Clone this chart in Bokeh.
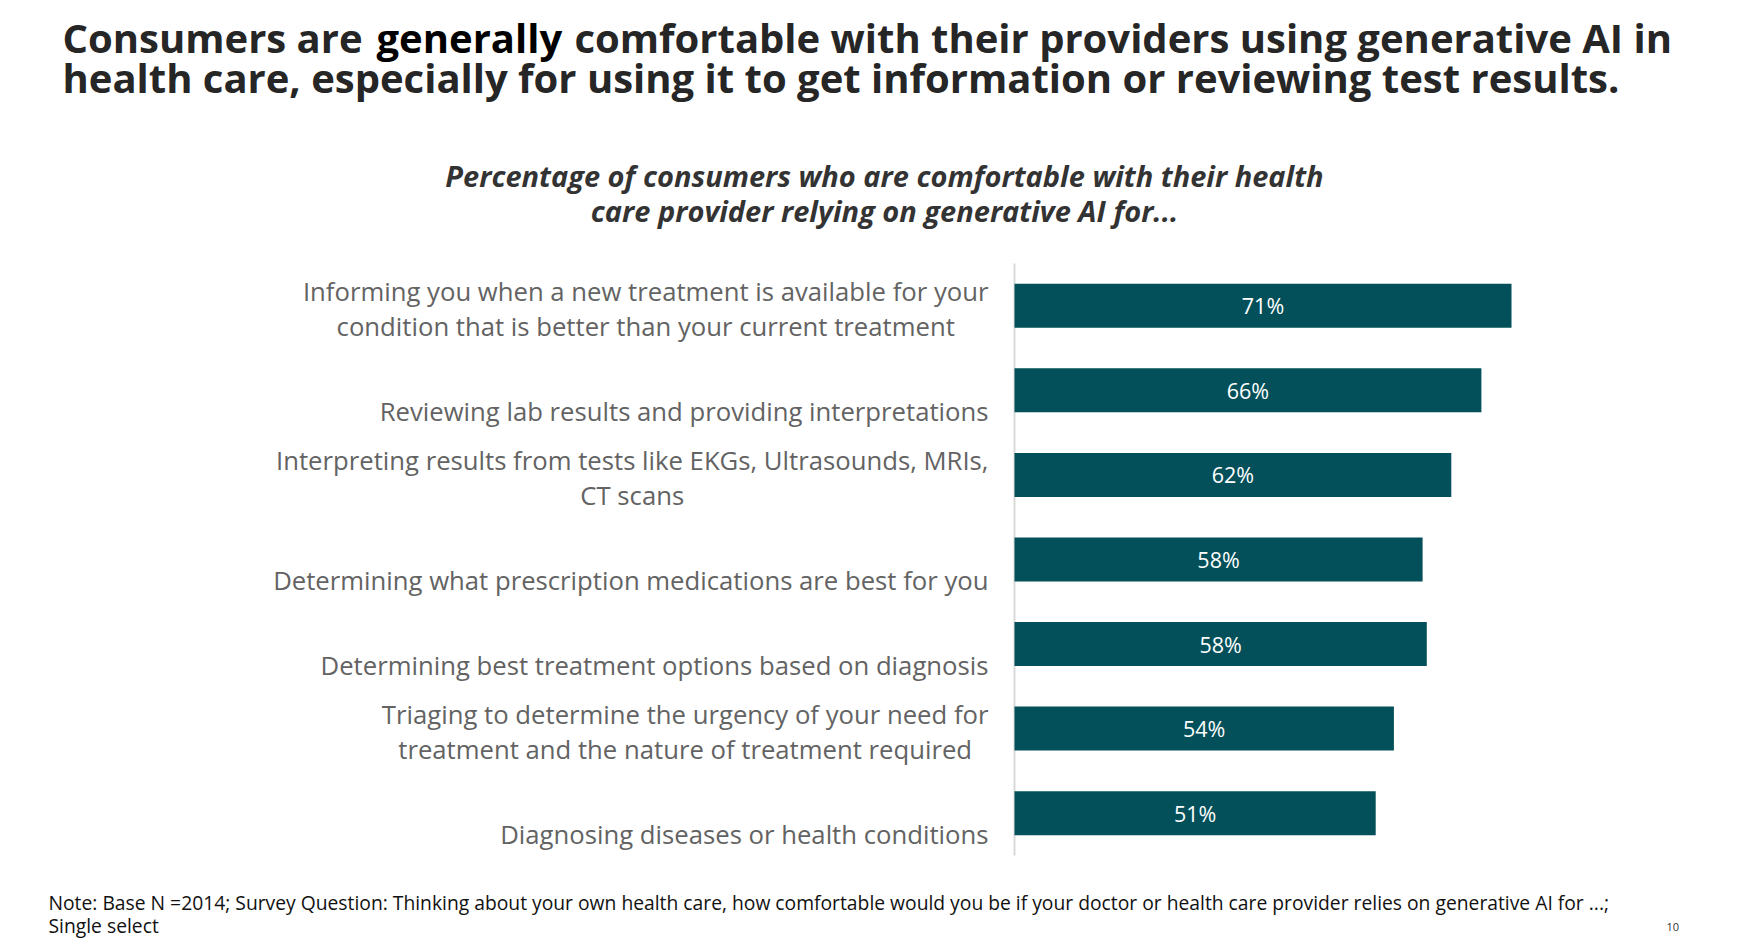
from bokeh.plotting import figure
from bokeh.models import Range1d, ColumnDataSource
from bokeh.core.properties import value
from bokeh.embed import file_html
from bokeh.resources import INLINE

# ---- data ----
categories = [
    "Informing you when a new treatment is available for your\ncondition that is better than your current treatment",
    "Reviewing lab results and providing interpretations",
    "Interpreting results from tests like EKGs, Ultrasounds, MRIs,\nCT scans",
    "Determining what prescription medications are best for you",
    "Determining best treatment options based on diagnosis",
    "Triaging to determine the urgency of your need for\ntreatment and the nature of treatment required",
    "Diagnosing diseases or health conditions",
]
values = [71.0, 66.7, 62.4, 58.3, 58.9, 54.2, 51.6]
value_labels = ["71%", "66%", "62%", "58%", "58%", "54%", "51%"]

title_line1_parts = ["Consumers are", "generally", "comfortable with their providers using generative AI in"]
title_line2 = "health care, especially for using it to get information or reviewing test results."
subtitle_lines = [
    "Percentage of consumers who are comfortable with their health",
    "care provider relying on generative AI for...",
]
note_lines = [
    "Note: Base N =2014; Survey Question: Thinking about your own health care, how comfortable would you be if your doctor or health care provider relies on generative AI for ...;",
    "Single select",
]
page_number = "10"

# ---- styling / layout ----
FONT = "Open Sans"
BAR_COLOR = "#03505A"
W, H = 1750, 948
PX_PER_PCT = 7.0        # pixels per percentage point
AXIS_PX = 1014          # pixel x of the value axis
ROW_PITCH = 84.57       # pixels per category row
FIRST_ROW_PX = 305.25   # pixel y of the first row centre

def to_data(xp, yp):
    return (xp - AXIS_PX) / PX_PER_PCT, (yp - FIRST_ROW_PX) / ROW_PITCH

p = figure(
    width=W, height=H,
    x_range=Range1d(-AXIS_PX / PX_PER_PCT, (W - AXIS_PX) / PX_PER_PCT),
    y_range=Range1d((H - FIRST_ROW_PX) / ROW_PITCH, -FIRST_ROW_PX / ROW_PITCH),
    x_axis_location=None, y_axis_location=None,
    toolbar_location=None, output_backend="svg",
    min_border=0,
)
p.outline_line_color = None
p.xgrid.visible = False
p.ygrid.visible = False
p.background_fill_color = "white"
p.border_fill_color = "white"

rows = list(range(len(categories)))

# axis line spanning the category band
p.segment(x0=[0], y0=[rows[0] - 0.5], x1=[0], y1=[rows[-1] + 0.5],
          line_color="#d9d9d9", line_width=2)

src = ColumnDataSource(dict(row=rows, val=values,
                            mid=[v / 2 for v in values], lab=value_labels))
p.hbar(y="row", left=0, right="val", height=0.52, source=src,
       fill_color=BAR_COLOR, line_color=None)
p.text(x="mid", y="row", text="lab", source=src, text_color="white",
       text_font=value(FONT), text_font_size="21.5px",
       text_align="center", text_baseline="middle")

# category labels: right-anchored blocks, lines centred, last line below bar centre
LABEL_SIZE = 25.7
LINE_PX = 35
LAST_LINE_SHIFT_PX = 21
lab_y = []
for r, c in zip(rows, categories):
    n = len(c.split("\n"))
    lab_y.append(r + (LAST_LINE_SHIFT_PX - (n - 1) * LINE_PX / 2) / ROW_PITCH)
p.text(x=[0] * len(rows), y=lab_y, text=categories, x_offset=-26,
       anchor="center_right", text_align="center", text_baseline="middle",
       text_line_height=1.0,
       text_font=value(FONT), text_font_size=f"{LABEL_SIZE}px", text_color="#636363")

def put(xp, yp, t, size, color, style="normal", align="left", baseline="alphabetic"):
    x, y = to_data(xp, yp)
    p.text(x=[x], y=[y], text=[t], text_font=value(FONT), text_font_size=size,
           text_font_style=style, text_color=color, text_align=align,
           text_baseline=baseline)

# title (the word "generally" is emphasised in black)
title_x = [62, 376, 574]
title_colors = ["#262626", "#000000", "#262626"]
for xp, t, col in zip(title_x, title_line1_parts, title_colors):
    put(xp, 37, t, "40px", col, style="bold")
put(62, 77, title_line2, "40px", "#262626", style="bold")
# subtitle
for i, t in enumerate(subtitle_lines):
    put(884, 175 + 35 * i, t, "29px", "#333333", style="bold italic", align="center")
# note
for i, t in enumerate(note_lines):
    put(48, 902 + 23 * i, t, "19.3px", "#111111", baseline="middle")
put(1666, 926, page_number, "11px", "#333333", baseline="middle")

open("out.html", "w").write(file_html(p, INLINE))
